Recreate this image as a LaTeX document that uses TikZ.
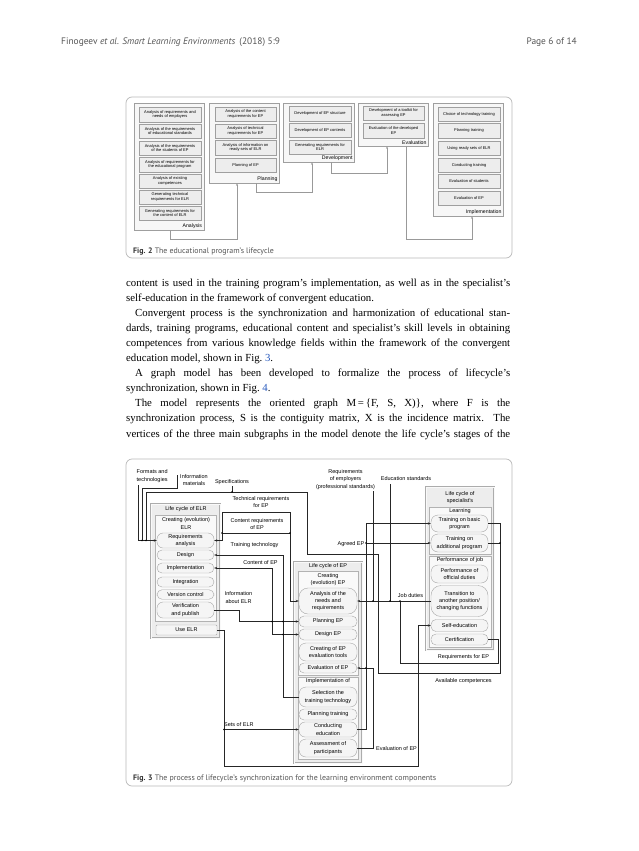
\documentclass[tikz,border=0pt]{standalone}
\usepackage{fontspec}
\setmainfont{Liberation Serif}
\newfontfamily\hdrfont{PT Sans}
\newfontfamily\dgfont{Liberation Sans}
\usetikzlibrary{arrows.meta,shadows}
\definecolor{linkblue}{RGB}{40,90,190}
\definecolor{capgray}{RGB}{85,85,85}
\begin{document}
\begin{tikzpicture}[x=1pt,y=-1pt,
  f2box/.style={draw=gray!75,fill=gray!14,inner sep=0,align=center,font=\dgfont\fontsize{4.0}{4.8}\selectfont,minimum height=14.5,drop shadow={shadow xshift=0.5pt,shadow yshift=-0.5pt,fill=gray!45}},
  f2grp/.style={draw=gray!75,fill=gray!6,inner sep=0,drop shadow={shadow xshift=0.8pt,shadow yshift=-0.8pt,fill=gray!45}},
  f2lab/.style={font=\dgfont\fontsize{5.2}{6}\selectfont,inner sep=0.5,anchor=south east},
  f2arr/.style={draw=gray!80,line width=0.5,-{Stealth[length=2.6pt,width=2pt]}},
  stad/.style={draw=gray!70,fill=gray!8,rounded corners=5,inner sep=0,align=center,font=\dgfont\fontsize{5.5}{7.4}\selectfont},
  ubox/.style={draw=gray!70,fill=gray!8,rounded corners=1,inner sep=0,align=center,font=\dgfont\fontsize{5.5}{7.4}\selectfont},
  frm/.style={draw=gray!65,double=gray!5,double distance=0.5pt,fill=gray!14,inner sep=0},
  ifrm/.style={draw=gray!60,fill=gray!5,inner sep=0},
  lbl/.style={inner sep=0,align=center,font=\dgfont\fontsize{5.5}{7.6}\selectfont},
  ln/.style={draw=black!85,line width=0.55},
  arr/.style={ln,-{Stealth[length=3pt,width=2.2pt]}},
  body/.style={inner sep=0,anchor=base west,font=\fontsize{10.8}{12}\selectfont},
  hdr/.style={inner sep=0,font=\hdrfont\fontsize{9.4}{11}\selectfont,text=capgray},
  captxt/.style={inner sep=0,anchor=base west,font=\hdrfont\fontsize{7.9}{9}\selectfont,text=capgray},
  capbox/.style={draw=gray!55,line width=0.7,rounded corners=6}
]
\useasboundingbox (0,0) rectangle (638,851);
\fill[white] (0,0) rectangle (638,851);

% ---------------- header
\node[hdr,anchor=base west] (hL) at (61,44.5) {Finogeev \textit{et al. Smart Learning Environments}\, (2018) 5:9};
\node[hdr,anchor=base east] (hR) at (577,44.5) {Page 6 of 14};

% ---------------- Fig. 2
\draw[capbox] (126,97) rectangle (512,258);
\node[captxt] (cap2) at (133,253) {\textbf{\color{black!80}Fig. 2} The educational program’s lifecycle};

\node[f2grp,minimum width=70,minimum height=127] (gA) at (169,166.5) {};
\node[f2lab] (lA) at ([xshift=-1.5,yshift=0.8]gA.south east) {Analysis};
\node[f2box,minimum width=62] (A1) at (170,114.5) {Analysis of requirements and\\needs of employers};
\node[f2box,minimum width=62] (A2) at (170,131) {Analysis of the requirements\\of educational standards};
\node[f2box,minimum width=62] (A3) at (170,148) {Analysis of the requirements\\of the students of EP};
\node[f2box,minimum width=62] (A4) at (170,164.5) {Analysis of requirements for\\the educational program};
\node[f2box,minimum width=62] (A5) at (170,181) {Analysis of existing\\competences};
\node[f2box,minimum width=62] (A6) at (170,197) {Generating technical\\requirements for ELR};
\node[f2box,minimum width=62] (A7) at (170,213) {Generating requirements for\\the content of ELR};

\node[f2grp,minimum width=70,minimum height=80] (gP) at (244,143) {};
\node[f2lab] (lP) at ([xshift=-1,yshift=0.8]gP.south east) {Planning};
\node[f2box,minimum width=61] (P1) at (245.5,114) {Analysis of the content\\requirements for EP};
\node[f2box,minimum width=61] (P2) at (245.5,131) {Analysis of technical\\requirements for EP};
\node[f2box,minimum width=61] (P3) at (245.5,147.5) {Analysis of information on\\ready sets of ELR};
\node[f2box,minimum width=61] (P4) at (245.5,165) {Planning of EP};

\node[f2grp,minimum width=71,minimum height=59] (gD) at (318.5,132.5) {};
\node[f2lab] (lD) at ([xshift=-1,yshift=0.8]gD.south east) {Development};
\node[f2box,minimum width=62] (D1) at (320,113.5) {Development of EP structure};
\node[f2box,minimum width=62] (D2) at (320,130) {Development of EP contents};
\node[f2box,minimum width=62] (D3) at (320,147) {Generating requirements for\\ELR};

\node[f2grp,minimum width=70,minimum height=43] (gE) at (393,124.5) {};
\node[f2lab] (lE) at ([xshift=-1,yshift=0.8]gE.south east) {Evaluation};
\node[f2box,minimum width=61] (E1) at (393.5,113) {Development of a toolkit for\\assessing EP};
\node[f2box,minimum width=61] (E2) at (393.5,130.5) {Evaluation of the developed\\EP};

\node[f2grp,minimum width=70,minimum height=113] (gI) at (468,159.5) {};
\node[f2lab] (lI) at ([xshift=-1,yshift=0.8]gI.south east) {Implementation};
\node[f2box,minimum width=62] (I1) at (469,114) {Choice of technology training};
\node[f2box,minimum width=62] (I2) at (469,130.5) {Planning training};
\node[f2box,minimum width=62] (I3) at (469,148) {Using ready sets of ELR};
\node[f2box,minimum width=62] (I4) at (469,165) {Conducting training};
\node[f2box,minimum width=62] (I5) at (469,181) {Evaluation of students};
\node[f2box,minimum width=62] (I6) at (469,198) {Evaluation of EP};

\coordinate (s1) at (170,0); \coordinate (r1) at (237,239);
\coordinate (s2) at (256,0); \coordinate (r2) at (312,192);
\coordinate (s3) at (331,0); \coordinate (r3) at (387,173);
\coordinate (s4) at (406,0); \coordinate (r4) at (472,239);
\draw[f2arr] (gA.south -| s1) |- (r1) -- (r1 |- gP.south);
\draw[f2arr] (gP.south -| s2) |- (r2) -- (r2 |- gD.south);
\draw[f2arr] (gD.south -| s3) |- (r3) -- (r3 |- gE.south);
\draw[f2arr] (gE.south -| s4) |- (r4) -- (r4 |- gI.south);

% ---------------- body text
\node[body] (t1) at (126,286) {\makebox[384pt][s]{content is used in the training program’s implementation, as well as in the specialist’s}};
\node[body] (t2) at (126,301.1) {self-education in the framework of convergent education.};
\node[body] (t3) at (135,316.2) {\makebox[375pt][s]{Convergent process is the synchronization and harmonization of educational stan-}};
\node[body] (t4) at (126,331.3) {\makebox[384pt][s]{dards, training programs, educational content and specialist’s skill levels in obtaining}};
\node[body] (t5) at (126,346.4) {\makebox[384pt][s]{competences from various knowledge fields within the framework of the convergent}};
\node[body] (t6) at (126,361.5) {education model, shown in Fig.~\textcolor{linkblue}{3}.};
\node[body] (t7) at (135,376.6) {\makebox[375pt][s]{A graph model has been developed to formalize the process of lifecycle’s}};
\node[body] (t8) at (126,391.7) {synchronization, shown in Fig.~\textcolor{linkblue}{4}.};
\node[body] (t9) at (135,406.8) {\makebox[375pt][s]{The model represents the oriented graph M\,=\,\{F, S, X)\}, where F is the}};
\node[body] (t10) at (126,421.9) {\makebox[384pt][s]{synchronization process, S is the contiguity matrix, X is the incidence matrix. The}};
\node[body] (t11) at (126,437) {\makebox[384pt][s]{vertices of the three main subgraphs in the model denote the life cycle’s stages of the}};

% ---------------- Fig. 3
\draw[capbox] (126,459) rectangle (512,786);
\node[captxt] (cap3) at (133,780) {\textbf{\color{black!80}Fig. 3} The process of lifecycle’s synchronization for the learning environment components};

% frames ELR
\node[frm,minimum width=69,minimum height=134] (ELRf) at (185.5,571) {};
\node[lbl] (ELRt) at (186,509.5) {Life cycle of ELR};
\node[ifrm,minimum width=61,minimum height=106] (ELRi) at (185.5,568) {};
\node[lbl] (ELRc) at (186,523.5) {Creating (evolution)\\ELR};
\node[stad,minimum width=57,minimum height=15,rounded corners=6] (RA) at (185.5,540.5) {Requirements\\analysis};
\node[stad,minimum width=57,minimum height=10] (DES) at (185.5,555) {Design};
\node[stad,minimum width=57,minimum height=10] (IMP) at (185.5,568) {Implementation};
\node[stad,minimum width=57,minimum height=10] (INT) at (185.5,582) {Integration};
\node[stad,minimum width=57,minimum height=9.5] (VC) at (185.5,594.5) {Version control};
\node[stad,minimum width=57,minimum height=16,rounded corners=6] (VP) at (185.5,610) {Verification\\and publish};
\node[ubox,minimum width=61,minimum height=10] (UE) at (186.5,630) {Use ELR};

% frames EP
\node[frm,minimum width=68,minimum height=201] (EPf) at (328,662.5) {};
\node[lbl] (EPt) at (328,566) {Life cycle of EP};
\node[ifrm,minimum width=60,minimum height=104] (EPi1) at (328,623) {};
\node[lbl] (EPc) at (328,579.5) {Creating\\(evolution) EP};
\node[ifrm,minimum width=60,minimum height=82] (EPi2) at (328,718) {};
\node[lbl] (EPm) at (328,681.5) {Implementation of};
\node[stad,minimum width=58,minimum height=26,rounded corners=9] (AN) at (328,601) {Analysis of the\\needs and\\requirements};
\node[stad,minimum width=58,minimum height=11] (PL) at (328,621.5) {Planning EP};
\node[stad,minimum width=58,minimum height=11] (DS) at (328,634.5) {Design EP};
\node[stad,minimum width=58,minimum height=18,rounded corners=7] (CT) at (328,652) {Creating of EP\\evaluation tools};
\node[stad,minimum width=58,minimum height=10] (EV) at (328,668) {Evaluation of EP};
\node[stad,minimum width=58,minimum height=20,rounded corners=7] (SEL) at (328,697) {Selection the\\training technology};
\node[stad,minimum width=58,minimum height=11] (PT) at (328,714.5) {Planning training};
\node[stad,minimum width=58,minimum height=15,rounded corners=6] (CE) at (328,729.5) {Conducting\\education};
\node[stad,minimum width=58,minimum height=18,rounded corners=7] (AS) at (328,748) {Assessment of\\participants};

% frames specialist
\node[frm,minimum width=68,minimum height=163] (SPf) at (460,568.5) {};
\node[lbl] (SPt) at (460,497.5) {Life cycle of\\specialist’s};
\node[ifrm,minimum width=62,minimum height=47] (SPi1) at (460,530.5) {};
\node[lbl] (SPl) at (460,511.5) {Learning};
\node[ifrm,minimum width=62,minimum height=91] (SPi2) at (460,601.5) {};
\node[lbl] (SPp) at (460,560) {Performance of job};
\node[stad,minimum width=57,minimum height=17,rounded corners=7] (TB) at (459.5,523.5) {Training on basic\\program};
\node[stad,minimum width=57,minimum height=18,rounded corners=7] (TA) at (459.5,543) {Training on\\additional program};
\node[stad,minimum width=57,minimum height=18,rounded corners=7] (PO) at (459.5,574) {Performance of\\official duties};
\node[stad,minimum width=57,minimum height=31,rounded corners=10] (TR) at (459.5,601) {Transition to\\another position/\\changing functions};
\node[stad,minimum width=57,minimum height=12] (SE) at (459.5,625.5) {Self-education};
\node[stad,minimum width=57,minimum height=11] (CF) at (459.5,639.5) {Certification};

% labels
\node[lbl,align=left,anchor=west] (fmt) at (136.5,476) {Formats and\\technologies};
\node[lbl] (info) at (194,480) {Information\\materials};
\node[lbl] (spec) at (232,482) {Specifications};
\node[lbl] (tech) at (261,502) {Technical requirements\\for EP};
\node[lbl] (creq) at (257,524) {Content requirements\\of EP};
\node[lbl] (trt) at (254.5,545.5) {Training technology};
\node[lbl] (coep) at (260.5,563) {Content of EP};
\node[lbl] (iaelr) at (238.5,597.5) {Information\\about ELR};
\node[lbl] (remp) at (345.5,479.5) {Requirements\\of employers\\(professional standards)};
\node[lbl] (edst) at (406,479) {Education standards};
\node[lbl,anchor=east] (agr) at (364.5,544) {Agreed EP};
\node[lbl] (jd) at (410.5,595.5) {Job duties};
\node[lbl,anchor=west] (setelr) at (224,724.5) {Sets of ELR};
\node[lbl,anchor=west] (evep) at (376,749) {Evaluation of EP};
\node[lbl] (reqep) at (463.5,657) {Requirements for EP};
\node[lbl] (avc) at (463.5,681) {Available competences};

% coordinates for corridors
\coordinate (fmtA) at (138,485);
\coordinate (infA) at (177,475); \coordinate (infB) at (142,488);
\coordinate (specA) at (232,486); \coordinate (sp1) at (232,492);
\coordinate (sp0) at (146,492); \coordinate (sp2) at (307,492);
\coordinate (sp3) at (307,554); \coordinate (sp4) at (378,554);
\coordinate (sp5) at (378,673); \coordinate (sp6) at (500,673);
\coordinate (tc1) at (290,512); \coordinate (tc0) at (222,512);
\coordinate (cc1) at (290,533); \coordinate (cc0) at (222,533);
\coordinate (trx) at (283,0); \coordinate (cex) at (272,0);
\coordinate (ifx) at (239,0); \coordinate (uex) at (224,0);
\coordinate (ue1) at (224,766); \coordinate (ue2) at (418,766);
\coordinate (re0) at (373,491); \coordinate (es0) at (390,484);
\coordinate (rq1) at (498,663); \coordinate (rq2) at (400,663);
\coordinate (agx) at (366,0); \coordinate (asx) at (373,0);

% inputs to requirements analysis
\draw[arr] (fmtA) |- (RA.west);
\draw[ln] (infA) |- (infB) -- (infB |- RA.west);
\draw[ln] (specA) -- (sp1);
\draw[ln] (sp0 |- RA.west) -- (sp0) -- (sp2) -- (sp3) -- (sp4) -- (sp5) -- (sp6) -- (sp6 |- TB.east) -- (TB.east);
\draw[ln] (TA.east) -- (TA.east -| sp6);
% technical / content requirements
\draw[ln] (tc1) -- (tc0);
\draw[arr] (tc0) -- (tc0 |- RA.east) -- (RA.east);
\draw[ln] (cc0) -- (cc1);
\draw[arr] (tc1) -- (tc1 |- AN.west) -- (AN.west);
% training technology
\draw[arr] (SEL.west) -- (SEL.west -| trx) -- (DES.east -| trx) -- (DES.east);
% content of EP
\draw[arr] (DS.west -| cex) -- (IMP.east -| cex) -- (IMP.east);
\draw[arr] (DS.west -| cex) -- (DS.west);
% information about ELR
\draw[arr] (VP.east) -- (VP.east -| ifx) -- (PL.west -| ifx) -- (PL.west);
% use ELR / sets of ELR
\draw[arr] (UE.east) -- (UE.east -| uex) -- (ue1) -- (ue2) -- (ue2 |- SE.west) -- (SE.west);
\draw[arr] (CE.west -| uex) -- (CE.west);
% job duties and standards
\draw[arr] (TR.west) -- (AN.east);
\draw[ln] (re0) -- (re0 |- AN.east);
\draw[ln] (es0) -- (es0 |- AN.east);
\draw[ln] (CF.east) -- (CF.east -| rq1) -- (rq1) -- (rq2) -- (rq2 |- AN.east);
% agreed EP / evaluation
\draw[arr] (TB.west -| agx) -- (TB.west);
\draw[arr] (TA.west -| agx) -- (TA.west);
\draw[ln] (TB.west -| agx) -- (EV.east -| agx);
\draw[arr] (EV.east -| agx) -- (EV.east);
\draw[ln] (CE.east) -- (CE.east -| agx) -- (EV.east -| agx);
\draw[ln] (AS.east) -- (AS.east -| asx) -- (EV.east -| asx) -- (EV.east -| agx);

% junction dots
\foreach \p in {(infB |- RA.west),(sp0 |- RA.west),(sp1),(cc0),(cc1),(TA.west -| agx),(EV.east -| agx),(re0 |- AN.east),(es0 |- AN.east),(rq2 |- AN.east),(TA.east -| sp6),(CE.west -| uex),(PL.west -| cex),(PL.west -| trx),(DS.west -| trx)}
  \fill \p circle[radius=0.9];
\end{tikzpicture}
\end{document}
